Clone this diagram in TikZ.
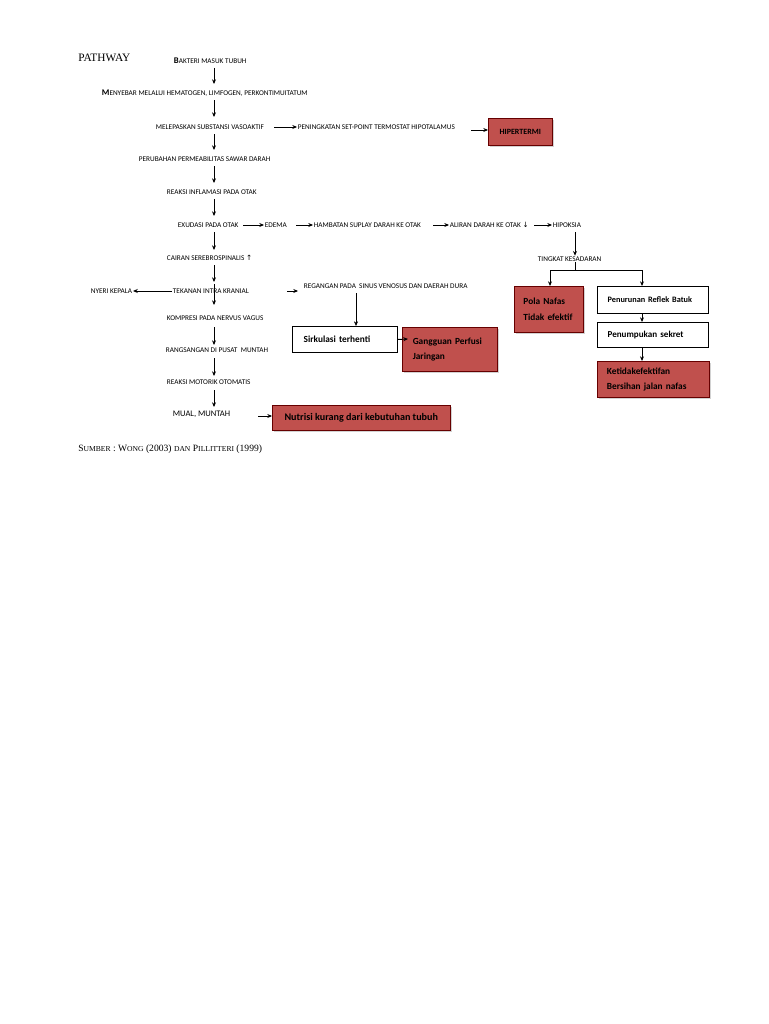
\documentclass[tikz,border=0pt]{standalone}
\usepackage{fontspec}
\setmainfont{Liberation Serif}
\newfontfamily\carl{Carlito}
\usetikzlibrary{arrows.meta,shadows,calc}
\begin{document}
\begin{tikzpicture}[x=0.75pt,y=-0.75pt,
 t/.style={font=\carl\fontsize{5.45}{6}\selectfont,inner sep=0.5pt,anchor=west},
 ar/.style={-{Stealth[length=3.5pt,width=3pt]},line width=0.7pt},
 redbox/.style={draw=red!40!black,line width=0.4pt,fill={rgb,255:red,192;green,80;blue,77},font=\carl\bfseries\fontsize{7}{11.5}\selectfont,align=left,anchor=north west,inner sep=0pt,drop shadow={shadow xshift=1.2pt,shadow yshift=-1.2pt,fill=black!35}},
 wbox/.style={draw,line width=0.7pt,fill=white,font=\carl\bfseries\fontsize{7}{11}\selectfont,align=left,anchor=north west,inner sep=0pt}]
\useasboundingbox (0,0) rectangle (768,1024);
\node[anchor=west,font=\fontsize{8.5}{10}\selectfont,inner sep=0] (pw) at (78,58) {PATHWAY};
\node[t] (a1) at (173,61) {{\fontsize{6.5}{6}\selectfont\bfseries B}AKTERI MASUK TUBUH};
\node[t] (a2) at (101,93) {{\fontsize{6.5}{6}\selectfont\bfseries M}ENYEBAR MELALUI HEMATOGEN, LIMFOGEN, PERKONTIMUITATUM};
\node[t] (a3) at (155,127) {MELEPASKAN SUBSTANSI VASOAKTIF};
\node[t] (b1) at (297,127) {PENINGKATAN SET-POINT TERMOSTAT HIPOTALAMUS};
\node[redbox,minimum width=64*0.75pt,minimum height=27*0.75pt,align=center,anchor=north west,font=\carl\bfseries\fontsize{6}{6}\selectfont] (hip) at (488,118) {HIPERTERMI};
\node[t] (a4) at (138,159) {PERUBAHAN PERMEABILITAS SAWAR DARAH};
\node[t] (a5) at (166,192) {REAKSI INFLAMASI PADA OTAK};
\node[t] (a6) at (177,225) {EXUDASI PADA OTAK};
\node[t] (c1) at (264,225) {EDEMA};
\node[t] (c2) at (313,225) {HAMBATAN SUPLAY DARAH KE OTAK};
\node[t] (c3) at (449,225) {ALIRAN DARAH KE OTAK \fontspec{DejaVu Sans}↓};
\node[t] (c4) at (552,225) {HIPOKSIA};
\node[t] (a7) at (166,258) {CAIRAN SEREBROSPINALIS \fontspec{DejaVu Sans}↑};
\node[t] (a8) at (172,291) {TEKANAN INTRA KRANIAL};
\node[t] (ny) at (90,291) {NYERI KEPALA};
\node[t] (rg) at (303,286) {REGANGAN PADA\ \ SINUS VENOSUS DAN DAERAH DURA};
\node[t] (a9) at (166,318) {KOMPRESI PADA NERVUS VAGUS};
\node[t] (a10) at (165,350) {RANGSANGAN DI PUSAT\ \ MUNTAH};
\node[t] (a11) at (166,382) {REAKSI MOTORIK OTOMATIS};
\node[t,font=\carl\fontsize{6.4}{6}\selectfont] (a12) at (172,414) {MUAL, MUNTAH};
\node[redbox,minimum width=178*0.75pt,minimum height=25*0.75pt,font=\carl\bfseries\fontsize{7.6}{8}\selectfont,align=center] (nut) at (272,405) {Nutrisi kurang dari kebutuhan tubuh};
\node[wbox,minimum width=105*0.75pt,minimum height=26*0.75pt,text width=96*0.75pt] (sir) at (292,326) {\hspace*{5pt}Sirkulasi terhenti};
\node[redbox,minimum width=95*0.75pt,minimum height=44*0.75pt,text width=90*0.75pt] (gg) at (402,327) {\hspace*{6pt}Gangguan Perfusi\\\hspace*{6pt}Jaringan};
\node[t] (tk) at (537,259) {TINGKAT KESADARAN};
\node[redbox,minimum width=69*0.75pt,minimum height=46*0.75pt,text width=64*0.75pt] (pola) at (514,286) {\hspace*{5pt}Pola Nafas\\\hspace*{5pt}Tidak efektif};
\node[wbox,minimum width=111*0.75pt,minimum height=27*0.75pt,text width=104*0.75pt,font=\carl\bfseries\fontsize{6.2}{7}\selectfont] (pen) at (597,286) {\hspace*{5pt}Penurunan Reflek Batuk};
\node[wbox,minimum width=111*0.75pt,minimum height=25*0.75pt,text width=104*0.75pt,font=\carl\bfseries\fontsize{6.8}{7}\selectfont] (pmk) at (597,322) {\hspace*{5pt}Penumpukan sekret};
\node[redbox,minimum width=112*0.75pt,minimum height=36*0.75pt,text width=106*0.75pt] (ket) at (597,361) {\hspace*{5pt}Ketidakefektifan\\\hspace*{5pt}Bersihan jalan nafas};
\node[anchor=west,inner sep=0,font=\fontsize{7.2}{8}\selectfont] (sb) at (78,449) {S{\fontsize{5.7}{6}\selectfont UMBER} : W{\fontsize{5.7}{6}\selectfont ONG} (2003) {\fontsize{5.7}{6}\selectfont DAN} P{\fontsize{5.7}{6}\selectfont ILLITTERI} (1999)};
% vertical chain
\foreach \ya/\yb in {68/84,100/117,134/150,166/183,199/216,232/250,265/282,284/305,327/345,358/376,390/407}
  \draw[ar] (214,\ya) -- (214,\yb);
\draw[ar] (274,127) -- (b1.west);
\draw[ar] (471,130) -- (hip.west |- 0,130);
\draw[ar] (243,225) -- (c1.west);
\draw[ar] (296,225) -- (c2.west);
\draw[ar] (433,225) -- (c3.west);
\draw[ar] (534,225) -- (c4.west);
\draw[ar] (a8.west) -- (ny.east);
\draw[ar] (287,291) -- (298,291);
\draw[-{Stealth[length=3.5pt,width=3pt]},line width=0.3pt] (356,293) -- (sir.north -| 356,0);
\draw[ar] (sir.east) -- (408,339);
\draw[ar] (258,416) -- (nut.west |- 0,416);
\draw[ar] (575,232) -- (tk.north -| 575,0);
\coordinate (br) at (575,270);
\draw[line width=0.7pt] (tk.south -| 575,0) -- (br) -- (550,270);
\draw[ar] (550,270) -- (pola.north -| 550,0);
\draw[ar] (br) -- (642,270) -- (pen.north -| 642,0);
\draw[ar] (pen.south -| 642,0) -- (pmk.north -| 642,0);
\draw[ar] (pmk.south -| 642,0) -- (ket.north -| 642,0);
\end{tikzpicture}
\end{document}
